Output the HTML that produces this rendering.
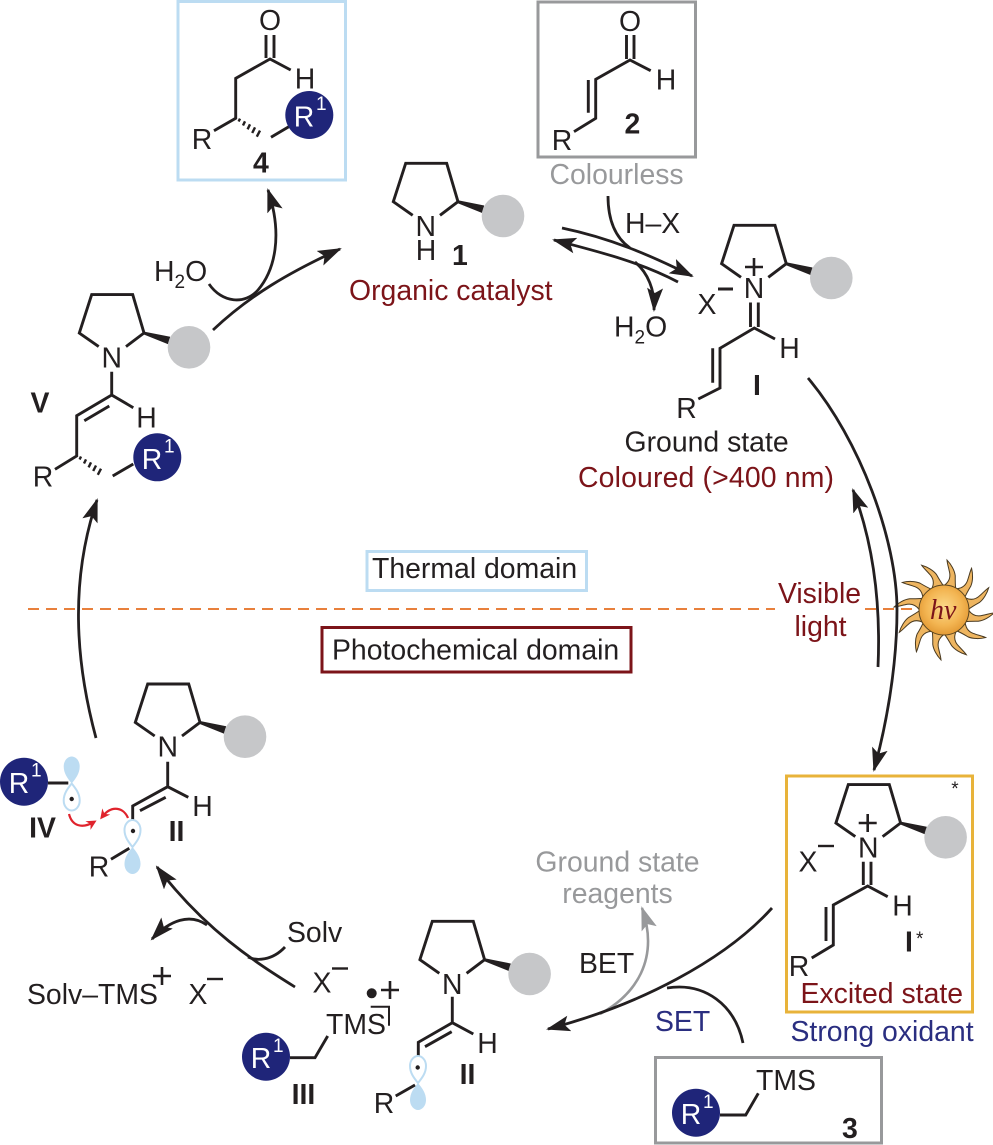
<!DOCTYPE html>
<html><head><meta charset="utf-8"><style>
html,body{margin:0;padding:0;background:#fff}
svg{display:block}
text{font-family:"Liberation Sans",Arial,sans-serif;font-size:28.4px;fill:#231f20}
.m{text-anchor:middle}
.b{font-weight:bold}
.w{fill:#fff}
.s{font-size:19px}
.red{fill:#7c1419}
.gr{fill:#98999b}
.nv{fill:#2a2e80}
.l{fill:none;stroke:#231f20;stroke-width:2.9}
.a{fill:none;stroke:#231f20;stroke-width:2.8;marker-end:url(#ah)}
.c{fill:none;stroke:#231f20;stroke-width:2.8}
.h{stroke:#231f20;stroke-width:2.4}
</style></head><body>
<svg width="993" height="1145" viewBox="0 0 993 1145" xmlns="http://www.w3.org/2000/svg">
<defs>
<marker id="ah" markerUnits="userSpaceOnUse" markerWidth="24" markerHeight="16" refX="22" refY="8" orient="auto" viewBox="0 0 24 16"><path d="M24,8 L0,0 L5,8 L0,16 Z" fill="#231f20"/></marker>
<marker id="ag" markerUnits="userSpaceOnUse" markerWidth="24" markerHeight="16" refX="22" refY="8" orient="auto" viewBox="0 0 24 16"><path d="M24,8 L0,0 L5,8 L0,16 Z" fill="#98999b"/></marker>
<marker id="ar" markerUnits="userSpaceOnUse" markerWidth="12" markerHeight="12" refX="7" refY="5" orient="auto" viewBox="0 0 12 10"><path d="M10,5 L0,0 L3,5 L0,10 Z" fill="#e0232c"/></marker>
<g id="ring">
<path class="l" d="M-13,-10.7 L-32.4,-24.3 L-20,-62.7 L21,-62.7 L32.3,-24.3 L14.3,-10.7"/>
<path d="M32.3,-25.7 L58.5,-20.5 L56.5,-13 L31.5,-23 Z" fill="#231f20"/>
<circle cx="77.3" cy="-10" r="21.3" fill="#c6c7c9"/>
</g>
<path id="lobe" d="M0,0 C-4,-5 -8,-10 -8,-17 C-8,-23 -4,-27 0,-27 C4,-27 8,-23 8,-17 C8,-10 4,-5 0,0 Z"/>
<path id="ray" d="M-6,-24 C-2,-29 -2,-34 -5,-39 C-7,-43 -9,-46 -10,-49 C-5,-46 0,-41 2,-36 C3,-32 4,-28 6,-23 Z" fill="#eeb560" stroke="#4a3a20" stroke-width="1"/>
<radialGradient id="sun" cx="50%" cy="45%" r="55%"><stop offset="0" stop-color="#fbd98a"/><stop offset=".65" stop-color="#f3b552"/><stop offset="1" stop-color="#e39a35"/></radialGradient>
</defs>

<!-- boxes -->
<rect x="178" y="1.5" width="167.5" height="178.5" fill="none" stroke="#bcdcf2" stroke-width="3"/>
<rect x="538" y="2" width="157.5" height="155" fill="none" stroke="#98999b" stroke-width="3"/>
<rect x="367" y="551.5" width="219.5" height="39" fill="none" stroke="#bcdcf2" stroke-width="3"/>
<rect x="322" y="627.5" width="309" height="44.5" fill="none" stroke="#7c1419" stroke-width="3"/>
<rect x="786.5" y="776" width="186" height="236" fill="none" stroke="#e8b33a" stroke-width="3"/>
<rect x="655.5" y="1057.5" width="226" height="85.5" fill="none" stroke="#98999b" stroke-width="3"/>

<!-- dashed line -->
<path d="M28,609 H775" stroke="#e8803c" stroke-width="2" stroke-dasharray="11 7" fill="none"/>
<path d="M865,609 H920" stroke="#e8803c" stroke-width="2" stroke-dasharray="11 7" fill="none"/>

<!-- compound 4 -->
<text class="m" x="270" y="30">O</text>
<path class="l" d="M266,35 V58 M274,35 V58 M290.7,70 L270,59 L235.7,78.3 V118.3 L214,130.7 M271,137.3 L290,126"/>
<path class="h" d="M240,118.6 L238.6,121.5 M245,121.3 L243,125.5 M250,124.3 L247.6,129.3 M255,127.4 L252.2,133 M260,130.6 L256.8,136.7"/>
<text class="m" x="305" y="88.5">H</text>
<text class="m" x="202" y="149">R</text>
<circle cx="309.3" cy="115" r="24" fill="#1f2579"/>
<text class="w m" x="304" y="126.5">R</text><text class="w s" x="316" y="110">1</text>
<text class="b" x="253" y="172.5">4</text>

<!-- compound 2 -->
<text class="m" x="630" y="31">O</text>
<path class="l" d="M626.5,35 V59 M634,35 V59 M650.7,70.7 L630,60 L595.7,79.3 V118.3 L574,131.7 M588.3,80 V112.7"/>
<text class="m" x="666" y="89.5">H</text>
<text class="m" x="562" y="150">R</text>
<text class="b" x="624.5" y="133.5">2</text>
<text class="gr" x="549.5" y="184">Colourless</text>

<!-- compound 1 -->
<use href="#ring" x="425.7" y="226"/>
<text class="m" x="425.7" y="236">N</text>
<text class="m" x="426" y="260">H</text>
<text class="b" x="452" y="265">1</text>
<text class="red" x="349" y="300">Organic catalyst</text>

<!-- I -->
<use href="#ring" x="754" y="288"/>
<text class="m" x="754" y="298">N</text>
<path class="l" d="M750.5,302.5 V327 M758.3,302.5 V327 M775,339 L754.3,328 L720,348.3 V388 L698.3,399 M712.7,348.3 V382.7 M718,289 H733"/>
<path d="M754,258 V276 M745,267 H763" stroke="#231f20" stroke-width="2.6"/>
<text class="m" x="789.5" y="358">H</text>
<text class="m" x="707" y="314">X</text>
<text class="b" x="753" y="395">I</text>
<text class="m" x="686.5" y="418">R</text>
<text x="624.5" y="451.5">Ground state</text>
<text class="red" x="578" y="487" textLength="256">Coloured (&gt;400 nm)</text>

<!-- reagents top right -->
<text x="625" y="233">H–X</text>
<text x="614" y="336.5">H<tspan class="s" dy="7">2</tspan><tspan dy="-7">O</tspan></text>
<text x="154" y="281">H<tspan class="s" dy="7">2</tspan><tspan dy="-7">O</tspan></text>

<!-- V -->
<use href="#ring" x="111.7" y="357.3"/>
<text class="m" x="111.7" y="367.3">N</text>
<path class="l" d="M111.7,371.7 V395 L133.3,407.7 M111.7,395 L76.7,415.7 V456 L55,469.3 M84.3,420.7 L109.3,406 M112.7,476 L133.3,464"/>
<path class="h" d="M81,456.5 L79.6,459.5 M86,459.4 L84,463.5 M91,462.4 L88.6,467.4 M96,465.5 L93.2,471 M101,468.7 L97.8,474.8"/>
<text class="m" x="146.5" y="427.5">H</text>
<text class="m" x="43" y="486.5">R</text>
<text class="b m" x="40" y="412.5">V</text>
<circle cx="157.3" cy="457.3" r="24" fill="#1f2579"/>
<text class="w m" x="152" y="469">R</text><text class="w s" x="164" y="452.5">1</text>

<!-- labels -->
<text x="372" y="578">Thermal domain</text>
<text x="332" y="659.5">Photochemical domain</text>
<text class="red m" x="819.5" y="603">Visible</text>
<text class="red m" x="820.5" y="636">light</text>

<!-- sun -->
<g transform="translate(944,610)">
<use href="#ray" transform="rotate(-15)"/><use href="#ray" transform="rotate(15)"/><use href="#ray" transform="rotate(45)"/><use href="#ray" transform="rotate(75)"/><use href="#ray" transform="rotate(105)"/><use href="#ray" transform="rotate(135)"/><use href="#ray" transform="rotate(165)"/><use href="#ray" transform="rotate(195)"/><use href="#ray" transform="rotate(225)"/><use href="#ray" transform="rotate(255)"/><use href="#ray" transform="rotate(285)"/><use href="#ray" transform="rotate(315)"/>
<circle r="25" fill="url(#sun)" stroke="#5a4520" stroke-width="1"/>
<text x="-14" y="9" style="font-family:'Liberation Serif',serif;font-style:italic;font-size:28px;fill:#7c1419">hν</text>
</g>

<!-- II + IV -->
<use href="#ring" x="167.7" y="746.7"/>
<text class="m" x="167.7" y="756.7">N</text>
<path class="l" d="M167.7,761.7 V786.7 L188.3,797.3 M167.7,786.7 L132.7,806 V820 M140,810.7 L165.7,797.3 M129.3,848.3 L111,859.3 M48,783 H68.3"/>
<text class="m" x="202.5" y="816">H</text>
<text class="b m" x="176.5" y="841">II</text>
<text class="b m" x="42.5" y="837.5">IV</text>
<text class="m" x="99" y="876.5">R</text>
<use href="#lobe" x="71.7" y="783.5" fill="#bcdcf2"/>
<use href="#lobe" fill="#fff" stroke="#bcdcf2" stroke-width="2" transform="translate(71.7,783.5) rotate(180)"/>
<circle cx="71.7" cy="799" r="2.2" fill="#231f20"/>
<use href="#lobe" fill="#fff" stroke="#bcdcf2" stroke-width="2" x="132.5" y="847"/>
<use href="#lobe" fill="#bcdcf2" transform="translate(132.5,847) rotate(180)"/>
<circle cx="133" cy="831" r="2.2" fill="#231f20"/>
<circle cx="24" cy="781.7" r="24" fill="#1f2579"/>
<text class="w m" x="19" y="793">R</text><text class="w s" x="31" y="776.5">1</text>
<path d="M69,814 C72,826 82,829 94,822" fill="none" stroke="#e0232c" stroke-width="2.2" marker-end="url(#ar)"/>
<path d="M128,818 C124,808 112,804 102,817" fill="none" stroke="#e0232c" stroke-width="2.2" marker-end="url(#ar)"/>

<!-- Solv-TMS -->
<text x="27" y="1004">Solv–TMS</text>
<path d="M162,967 V985 M153,976 H171" stroke="#231f20" stroke-width="2.6"/>
<text class="m" x="198" y="1004">X</text>
<path d="M207,979 H223" stroke="#231f20" stroke-width="2.4"/>
<text x="287" y="942">Solv</text>
<text class="m" x="322" y="992.5">X</text>
<path d="M332,968.5 H348" stroke="#231f20" stroke-width="2.4"/>
<circle cx="371.7" cy="993.3" r="5" fill="#231f20"/>
<path d="M390,981 V999 M381,990 H399" stroke="#231f20" stroke-width="2.6"/>
<text x="326" y="1034">TMS</text>
<path d="M370.7,1006.7 H389 V1025.7" fill="none" stroke="#231f20" stroke-width="2"/>
<circle cx="266" cy="1056.7" r="24" fill="#1f2579"/>
<text class="w m" x="261" y="1068">R</text><text class="w s" x="273" y="1052">1</text>
<path class="l" d="M290,1057.7 H315 L327.7,1036"/>
<text class="b m" x="303.5" y="1104">III</text>

<!-- II bottom -->
<use href="#ring" x="452.3" y="984"/>
<text class="m" x="452.3" y="994">N</text>
<path class="l" d="M452.3,996.7 V1022.7 L473.3,1034 M452.3,1022.7 L418.3,1042.3 V1056.7 M425,1046.7 L451.7,1031.7 M415,1085 L395.7,1096"/>
<text class="m" x="487.5" y="1053">H</text>
<text class="b m" x="467.5" y="1084">II</text>
<text class="m" x="384" y="1113">R</text>
<use href="#lobe" fill="#fff" stroke="#bcdcf2" stroke-width="2" x="418" y="1083"/>
<use href="#lobe" fill="#bcdcf2" transform="translate(418,1083) rotate(180)"/>
<circle cx="417.7" cy="1067.5" r="2.2" fill="#231f20"/>

<!-- I* -->
<use href="#ring" x="868.3" y="847.3"/>
<text class="m" x="868.3" y="857.3">N</text>
<path class="l" d="M863.3,861.7 V885 M871,861.7 V885 M887.7,896.7 L867.7,886 L833.3,905 V945 L811.7,958 M826,907 V941"/>
<path d="M867.7,814 V832 M858.7,823 H876.7" stroke="#231f20" stroke-width="2.6"/>
<text class="m" x="808" y="871.5">X</text>
<path d="M818,846 H834" stroke="#231f20" stroke-width="2.4"/>
<text class="m" x="902.5" y="915.5">H</text>
<text class="m" x="799" y="976">R</text>
<text class="b" x="905" y="951.5">I</text>
<text class="s" x="916" y="945">*</text>
<text class="s m" x="955" y="795">*</text>
<text class="red" x="800.5" y="1003">Excited state</text>
<text class="nv" x="790.5" y="1041">Strong oxidant</text>

<!-- 3 -->
<circle cx="696" cy="1112.7" r="24" fill="#1f2579"/>
<text class="w m" x="691" y="1124">R</text><text class="w s" x="703" y="1108">1</text>
<path class="l" d="M720,1115 H745.7 L758.3,1093.3"/>
<text x="756" y="1090">TMS</text>
<text class="b" x="842" y="1138">3</text>

<!-- gray labels -->
<text class="gr m" x="617.5" y="871.5">Ground state</text>
<text class="gr m" x="617.5" y="903">reagents</text>
<text x="579" y="973">BET</text>
<text class="nv" x="655" y="1031">SET</text>

<!-- arrows -->
<path class="a" d="M213,330 C250,295 290,272 340,249"/>
<path class="a" d="M209,284 C222,303 245,305 258,290 C275,270 283,235 268,190"/>
<path class="a" d="M562,228 C610,238 650,255 692,276"/>
<path class="a" d="M678,282 C640,262 600,252 554,240"/>
<path class="c" d="M608,196 C608,222 616,238 630,248"/>
<path class="a" d="M635,262 C648,273 655,290 654,310"/>
<path class="a" d="M808,378 C860,440 897,540 897,610 C897,670 885,730 874,770"/>
<path class="a" d="M878,667 C881,600 872,540 853,490"/>
<path d="M600,1014 C635,995 660,960 642,908" fill="none" stroke="#98999b" stroke-width="2.6" marker-end="url(#ag)"/>
<path class="a" d="M772,908 C725,960 640,1005 548,1029"/>
<path class="c" d="M743,1043 C735,1005 705,982 667,988"/>
<path class="a" d="M295,987 C255,962 205,930 157,867"/>
<path class="c" d="M285,947 C272,961 256,961 248,957"/>
<path class="a" d="M207,925 C190,913 170,920 152,939"/>
<path class="a" d="M96,738 C75,660 70,580 97,500"/>
</svg>
</body></html>
